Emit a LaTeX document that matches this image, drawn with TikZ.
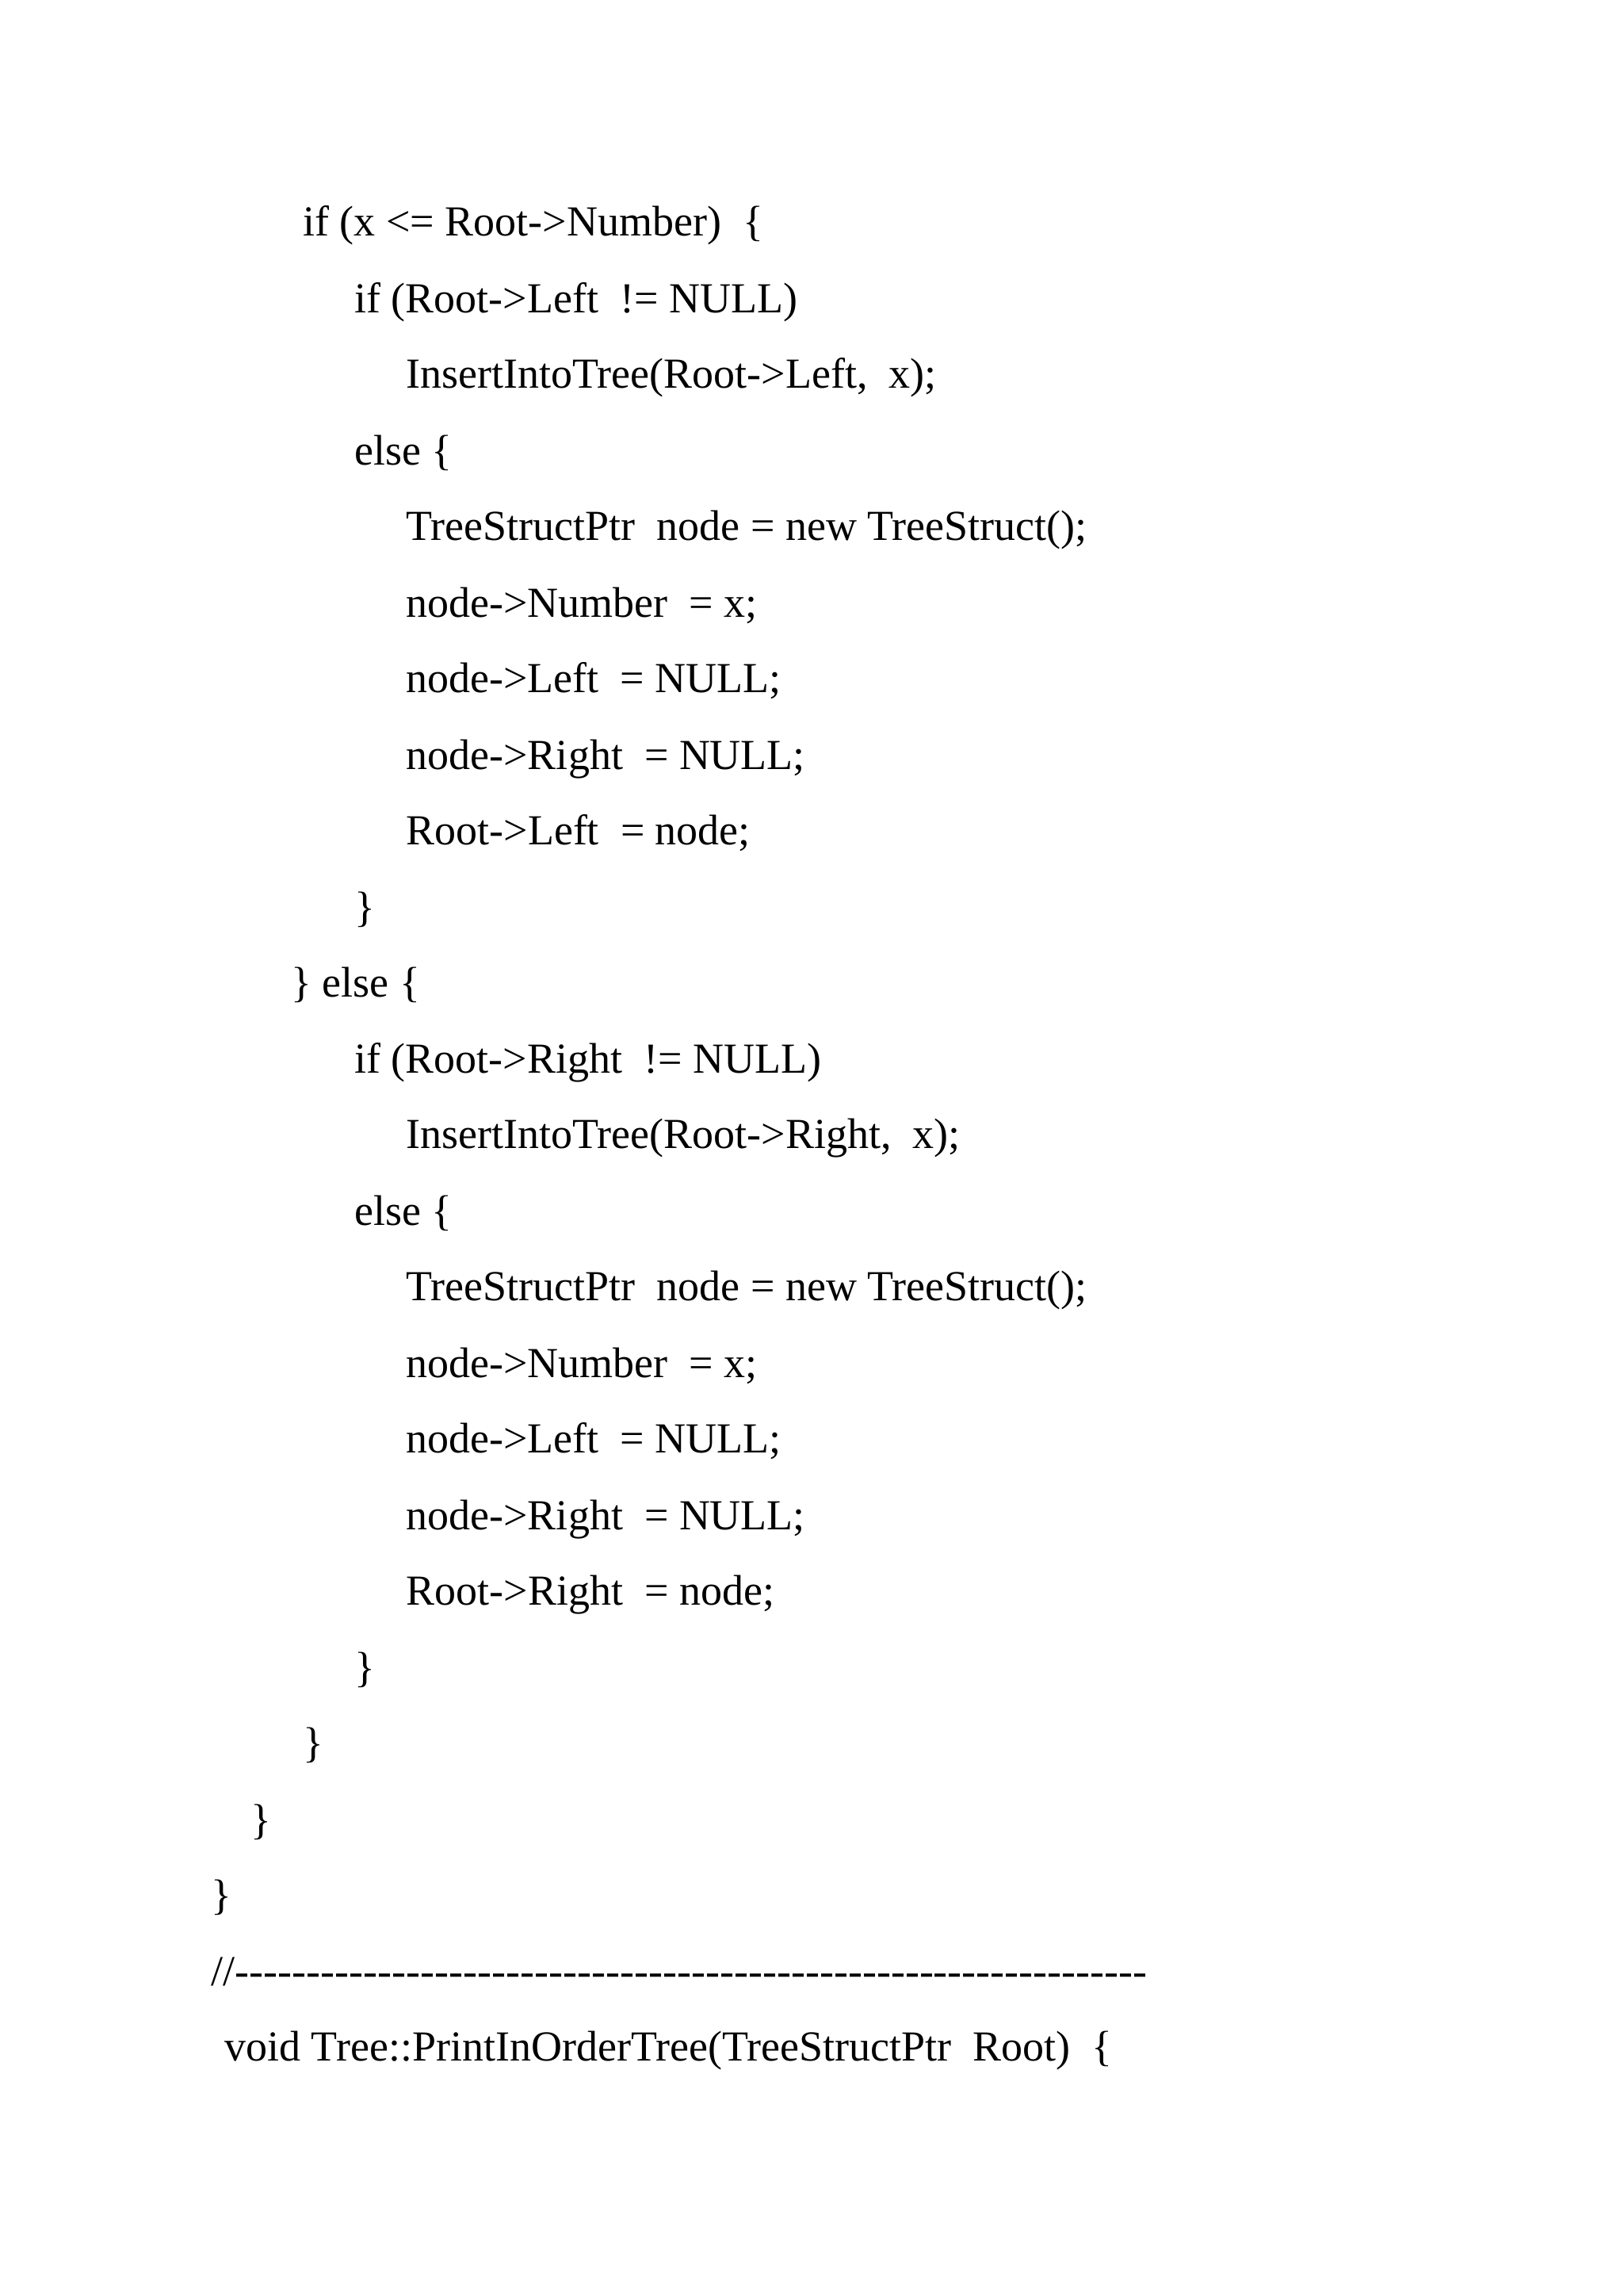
\documentclass[tikz,border=0pt]{standalone}
\usepackage{fontspec}
\newfontfamily\codefont{Liberation Serif}
\usetikzlibrary{positioning}
\tikzset{codeline/.style={anchor=base west, inner sep=0pt, font=\codefont\fontsize{29}{32}\selectfont}}
\begin{document}
\begin{tikzpicture}[x=1pt, y=-1pt]
    \useasboundingbox (0,0) rectangle (1100,1555);
    \node[codeline] (l1) at (205,160) {if (x <= Root->Number)\ \ \{};
    \node[codeline] (l2) at (240,212) {if (Root->Left\ \ != NULL)};
    \node[codeline] (l3) at (275,263) {InsertIntoTree(Root->Left,\ \ x);};
    \node[codeline] (l4) at (240,315) {else \{};
    \node[codeline] (l5) at (275,366) {TreeStructPtr\ \ node = new TreeStruct();};
    \node[codeline] (l6) at (275,418) {node->Number\ \ = x;};
    \node[codeline] (l7) at (275,469) {node->Left\ \ = NULL;};
    \node[codeline] (l8) at (275,521) {node->Right\ \ = NULL;};
    \node[codeline] (l9) at (275,572) {Root->Left\ \ = node;};
    \node[codeline] (l10) at (240,624) {\}};
    \node[codeline] (l11) at (197,675) {\} else \{};
    \node[codeline] (l12) at (240,727) {if (Root->Right\ \ != NULL)};
    \node[codeline] (l13) at (275,778) {InsertIntoTree(Root->Right,\ \ x);};
    \node[codeline] (l14) at (240,830) {else \{};
    \node[codeline] (l15) at (275,881) {TreeStructPtr\ \ node = new TreeStruct();};
    \node[codeline] (l16) at (275,933) {node->Number\ \ = x;};
    \node[codeline] (l17) at (275,984) {node->Left\ \ = NULL;};
    \node[codeline] (l18) at (275,1036) {node->Right\ \ = NULL;};
    \node[codeline] (l19) at (275,1087) {Root->Right\ \ = node;};
    \node[codeline] (l20) at (240,1139) {\}};
    \node[codeline] (l21) at (205,1190) {\}};
    \node[codeline] (l22) at (170,1242) {\}};
    \node[codeline] (l23) at (143,1293) {\}};
    \node[codeline] (l24) at (143,1345) {//----------------------------------------------------------------};
    \node[codeline] (l25) at (152,1396) {void Tree::PrintInOrderTree(TreeStructPtr\ \ Root)\ \ \{};
\end{tikzpicture}
\end{document}
